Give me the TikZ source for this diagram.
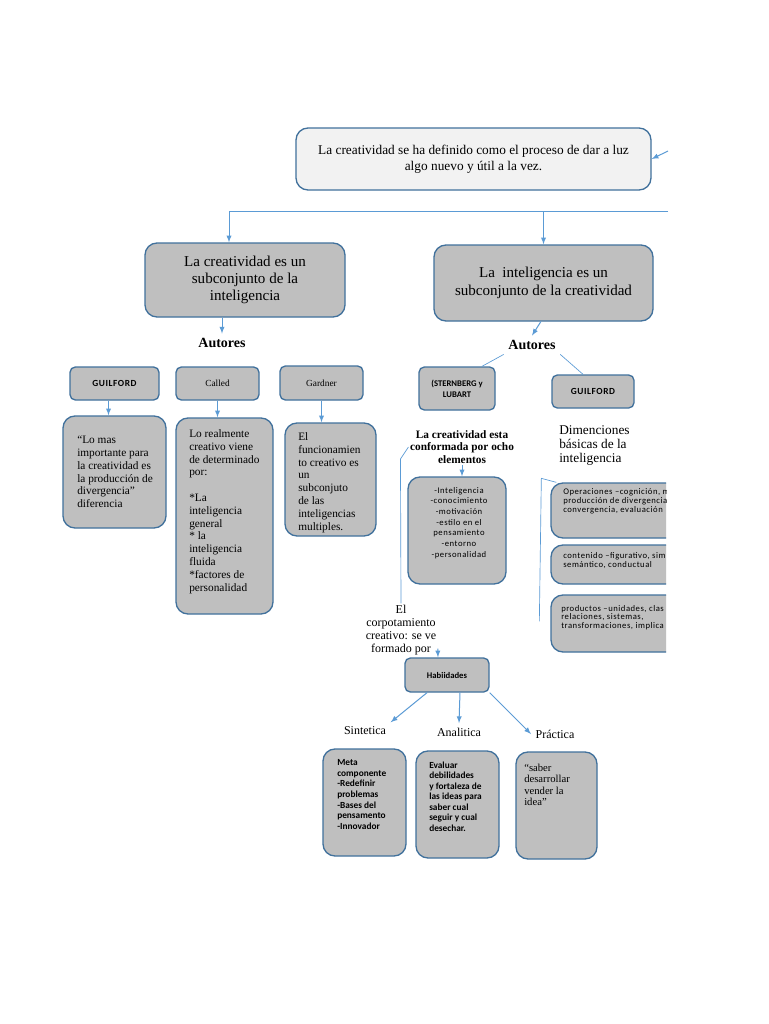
\documentclass[tikz,border=0pt]{standalone}
\usepackage{xcolor}
\usepackage{fontspec}
\setmainfont{Liberation Serif}
\setsansfont{Carlito}
\newfontfamily\spacedsans[LetterSpace=6]{Carlito}
\usepackage{tikz}
\usetikzlibrary{calc}
\usetikzlibrary{arrows}
\definecolor{boxline}{HTML}{41719C}
\definecolor{boxfill}{HTML}{BFBFBF}
\definecolor{topfill}{HTML}{F2F2F2}
\definecolor{arrline}{HTML}{5B9BD5}
\tikzstyle{box}=[draw=boxline, fill=boxfill, line width=1pt, rounded corners=9pt, inner sep=0pt]
\tikzstyle{tag}=[box, rounded corners=4pt]
\tikzstyle{txt}=[inner sep=0pt, align=left, anchor=west]
\tikzstyle{link}=[arrline, line width=0.75pt]
\tikzstyle{thinlink}=[arrline, line width=0.5pt]
\tikzstyle{serifnote}=[font=\fontsize{8.5}{9.6}\selectfont]
\tikzstyle{sansnote}=[font=\sffamily\bfseries\fontsize{7}{7.9}\selectfont]
\tikzstyle{sanstag}=[font=\sffamily\bfseries\fontsize{6.5}{8}\selectfont]

\begin{document}
\begin{tikzpicture}[>=latex, x=0.75pt, y=-0.75pt]
                \path [use as bounding box, fill=white] (0, 0) rectangle (768, 1024);
                \node [box, fill=topfill, minimum width=266.25pt, minimum height=46.5pt, align=center, font=\fontsize{10}{12}\selectfont] (def) at (473.5, 159) {La creatividad se ha definido como el proceso de dar a luz\\algo nuevo y útil a la vez.};
                \node [box, minimum width=150pt, minimum height=55.5pt, align=center, font=\fontsize{11.3}{12.75}\selectfont] (lbox) at (245, 280) {La creatividad es un\\subconjunto de la\\inteligencia};
                \node [box, minimum width=164.25pt, minimum height=57pt, align=center, font=\fontsize{11.3}{13.5}\selectfont] (rbox) at (543.5, 283) {La~~inteligencia es un\\subconjunto de la creatividad};
                \coordinate (topin) at (668, 151);
                \coordinate (hl) at (668, 211);
                \draw [link, ->] (topin) -- (def.east);
                \draw [link, ->] (hl) -| ([xshift=-12pt]lbox.north);
                \draw [link, ->] (rbox.north |- hl) -- (rbox.north);

                \node [font=\bfseries\fontsize{10.5}{12}\selectfont] (aut1) at (222, 343) {Autores};
                \node [font=\bfseries\fontsize{10.5}{12}\selectfont] (aut2) at (532, 345) {Autores};
                \draw [link, ->] (aut1.north |- lbox.south) -- (aut1.north);
                \draw [link, ->] ([xshift=-2pt]rbox.south) -- (aut2.north);

                \node [tag, minimum width=66.75pt, minimum height=24.75pt, font=\spacedsans\bfseries\fontsize{7}{8}\selectfont] (gui1) at (114.5, 383.5) {GUILFORD};
                \node [tag, minimum width=62.25pt, minimum height=24.75pt, font=\fontsize{7}{8}\selectfont] (call) at (217.5, 383.5) {Called};
                \node [tag, minimum width=62.25pt, minimum height=25.5pt, font=\fontsize{7}{8}\selectfont] (gard) at (321.5, 383) {Gardner};
                \node [box, minimum width=77.25pt, minimum height=84pt] (det1) at (114.5, 472) {};
                \node [box, minimum width=72.75pt, minimum height=147pt] (det2) at (224.5, 516) {};
                \node [box, minimum width=68.25pt, minimum height=84.75pt] (det3) at (330.5, 479.5) {};
                \node [txt, serifnote] (det1t) at (77, 472) {“Lo mas\\importante para\\la creatividad es\\la producción de\\divergencia”\\diferencia};
                \node [txt, serifnote] (det2t) at (189, 511.5) {Lo realmente\\creativo viene\\de determinado\\por:\\[9.6pt]{}*La\\inteligencia\\general\\{}* la\\inteligencia\\fluida\\{}*factores de\\personalidad};
                \node [txt, serifnote] (det3t) at (298, 482.5) {El\\funcionamien\\to creativo es\\un\\subconjuto\\de las\\inteligencias\\multiples.};
                \draw [link, ->] ([xshift=-4.5pt]gui1.south) -- ([xshift=-4.5pt]det1.north);
                \draw [link, ->] (call.south) -- (call.south |- det2.north);
                \draw [link, ->] (gard.south) -- (gard.south |- det3.north);

                \node [tag, sanstag, minimum width=57pt, minimum height=32.25pt, align=center] (stern) at (457, 388.5) {(STERNBERG y\\LUBART};
                \node [tag, minimum width=61.5pt, minimum height=24.75pt, font=\spacedsans\bfseries\fontsize{7}{8}\selectfont] (gui2) at (593, 391.5) {GUILFORD};
                \draw [thinlink] (aut2.south west) -- ([xshift=18.75pt]stern.north);
                \draw [thinlink] (aut2.south east) -- ([xshift=-7.5pt]gui2.north);

                \node [align=center, inner sep=1pt, font=\bfseries\fontsize{8.5}{9.4}\selectfont] (ocho) at (462, 447) {La creatividad esta\\conformada por ocho\\elementos};
                \node [box, minimum width=73.5pt, minimum height=80.25pt] (intel) at (457, 530.5) {};
                \node [align=center, inner sep=0pt, font=\spacedsans\fontsize{6.5}{8}\selectfont] (intelt) at (459, 523) {-Inteligencia\\-conocimiento\\-motivación\\-estilo en el\\pensamiento\\-entorno\\-personalidad};
                \draw [link, ->] (ocho.south) -- (ocho.south |- intel.north);

                \node [txt, font=\fontsize{10}{10.5}\selectfont] (dimen) at (559, 446) {Dimenciones\\básicas de la\\inteligencia};
                \begin{scope}
                \clip (0, 0) rectangle (666, 1024);
                \node [box, minimum width=164.25pt, minimum height=41.25pt] (oper) at (660.5, 510.5) {};
                \node [box, minimum width=164.25pt, minimum height=29.25pt] (cont) at (660.5, 564.5) {};
                \node [box, minimum width=164.25pt, minimum height=42.75pt] (prod) at (660.5, 623.5) {};
                \node [txt, font=\spacedsans\fontsize{6.5}{5.2}\selectfont] (opert) at (563, 501.5) {Operaciones –cognición, m\\producción de divergencia\\convergencia, evaluación};
                \node [txt, font=\spacedsans\fontsize{6.5}{7}\selectfont] (contt) at (563, 560.5) {contenido –figurativo, sim\\semántico, conductual};
                \node [txt, font=\spacedsans\fontsize{6.5}{6.3}\selectfont] (prodt) at (561, 617.5) {productos –unidades, clas\\relaciones, sistemas,\\transformaciones, implica};
                \end{scope}
                \draw [thinlink] ([xshift=4.5pt]oper.north west) -- ++(-15, -4) -- ++(-2, 143);

                \node [align=center, inner sep=1pt, font=\fontsize{9}{9.75}\selectfont] (corp) at (401, 630) {El\\corpotamiento\\creativo: se ve\\formado por};
                \draw [thinlink] (ocho.west) -- ++(-8, 12) -- (corp.north);
                \node [tag, sanstag, minimum width=63pt, minimum height=25.5pt] (hab) at (447, 675) {Habiidades};
                \draw [link, ->] ([yshift=6pt]corp.south east) -- ([xshift=-6.75pt]hab.north);

                \node [font=\fontsize{9}{10}\selectfont] (sint) at (365, 731) {Sintetica};
                \node [font=\fontsize{9}{10}\selectfont] (ana) at (459, 732) {Analitica};
                \node [font=\fontsize{9}{10}\selectfont] (prac) at (555, 734) {Práctica};
                \draw [link, ->] ([xshift=17pt]hab.south west) -- (sint.north east);
                \draw [link, ->] ([xshift=9.75pt]hab.south) -- (ana.north);
                \draw [link, ->] (hab.south east) -- (prac.west);

                \node [box, minimum width=62.25pt, minimum height=80.25pt] (sbox) at (364.5, 802.5) {};
                \node [box, minimum width=62.25pt, minimum height=80.25pt] (abox) at (457.5, 804.5) {};
                \node [box, minimum width=60.75pt, minimum height=80.25pt] (pbox) at (556.5, 805.5) {};
                \node [txt, sansnote] (sboxt) at (337, 794.5) {Meta\\componente\\-Redefinir\\problemas\\-Bases del\\pensamento\\-Innovador};
                \node [txt, sansnote] (aboxt) at (429, 796.5) {Evaluar\\debilidades\\y fortaleza de\\las ideas para\\saber cual\\seguir y cual\\desechar.};
                \node [txt, font=\fontsize{8}{8.5}\selectfont] (pboxt) at (524, 785) {“saber\\desarrollar\\vender la\\idea”};
            \end{tikzpicture}
\end{document}
